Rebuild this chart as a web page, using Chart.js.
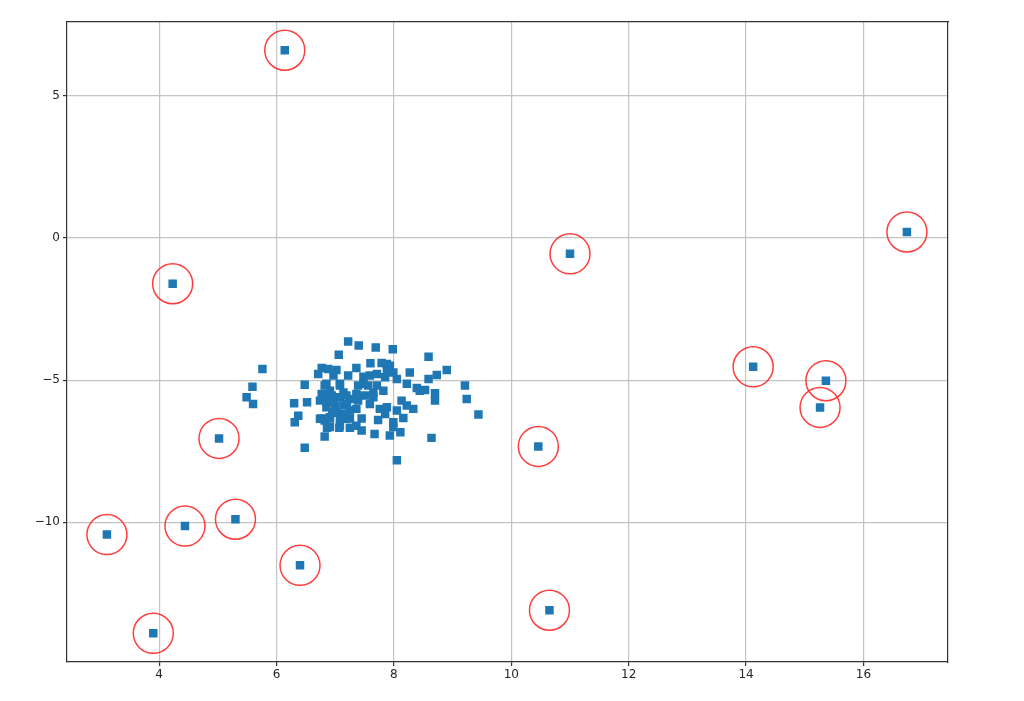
<!DOCTYPE html>
<html>
<head>
<meta charset="utf-8">
<script src="https://cdn.jsdelivr.net/npm/chart.js@4"></script>
<style>
html,body{margin:0;padding:0;background:#fff;}
#wrap{width:1024px;height:701px;position:relative;}
</style>
</head>
<body>
<div id="wrap"><canvas id="c"></canvas></div>
<script>
const clusterX = [7.22,7.40,7.69,7.98,7.06,8.59,7.60,7.79,7.88,7.93,5.76,6.77,6.88,7.02,7.36,8.90,8.27,7.88,7.99,7.22,7.48,7.59,7.71,8.73,8.59,8.05,7.85,6.48,5.59,6.85,7.08,7.48,7.71,8.22,8.39,8.53,9.21,6.91,7.14,7.36,7.65,7.82,8.70,8.44,5.49,5.60,6.30,6.52,6.74,6.91,7.08,7.25,7.39,7.65,8.70,9.24,6.85,7.14,7.36,7.76,7.88,8.05,8.22,8.33,6.37,6.31,6.74,6.91,7.19,7.73,8.16,7.99,9.44,6.91,7.36,7.45,7.99,6.82,7.67,7.93,8.11,8.64,6.48,8.05,6.97,7.02,7.25,6.82,7.08,7.59,7.85,8.13,6.77,6.71,6.97,6.82,7.08,7.39,7.56,6.94,7.19,7.42,7.56,6.77,6.91,7.08,7.25,7.45,6.86,7.07,7.25,6.85,7.00,7.20,6.95,7.15];
const clusterY = [-3.64,-3.78,-3.85,-3.91,-4.11,-4.18,-4.41,-4.40,-4.43,-4.49,-4.61,-4.57,-4.61,-4.64,-4.57,-4.64,-4.73,-4.67,-4.73,-4.84,-4.88,-4.84,-4.78,-4.82,-4.96,-4.96,-4.90,-5.16,-5.23,-5.13,-5.13,-5.13,-5.19,-5.13,-5.28,-5.35,-5.19,-5.37,-5.43,-5.49,-5.43,-5.37,-5.46,-5.37,-5.60,-5.84,-5.81,-5.78,-5.72,-5.66,-5.60,-5.66,-5.72,-5.60,-5.72,-5.66,-5.95,-5.89,-6.01,-6.01,-5.95,-6.07,-5.89,-6.01,-6.25,-6.48,-6.36,-6.30,-6.36,-6.40,-6.33,-6.48,-6.21,-6.65,-6.60,-6.77,-6.65,-6.98,-6.89,-6.95,-6.83,-7.03,-7.38,-7.82,-5.78,-6.13,-6.07,-6.42,-6.60,-5.84,-6.19,-5.72,-5.49,-4.78,-4.84,-5.19,-5.19,-5.19,-5.19,-5.54,-5.54,-5.54,-5.54,-6.35,-6.35,-6.35,-6.35,-6.35,-6.67,-6.67,-6.67,-5.75,-5.90,-5.85,-6.15,-6.20];
const outlierX = [6.14,4.23,11.00,16.74,14.12,15.36,15.26,10.46,5.02,3.11,4.44,5.30,6.40,3.90,10.65];
const outlierY = [6.60,-1.61,-0.56,0.21,-4.53,-5.02,-5.96,-7.33,-7.05,-10.43,-10.13,-9.89,-11.51,-13.90,-13.09];
const xTicks = [4,6,8,10,12,14,16];
const yTicks = [-10,-5,0,5];
const xRange = [2.43,17.44];
const yRange = [-14.91,7.61];

const toPts = (xs, ys) => xs.map((x,i)=>({x:x,y:ys[i]}));
const allPts = toPts(clusterX.concat(outlierX), clusterY.concat(outlierY));
const outPts = toPts(outlierX, outlierY);

const fmt = v => (v < 0 ? '\u2212' + Math.abs(v) : String(v));
const tickFont = {family:'DejaVu Sans', size:12};

new Chart(document.getElementById('c'), {
  type:'scatter',
  data:{datasets:[
    {data:allPts, pointStyle:'rect', pointRadius:6, pointHoverRadius:6, backgroundColor:'#1f77b4', borderColor:'#1f77b4', borderWidth:0},
    {data:outPts, pointStyle:'circle', pointRadius:20, pointHoverRadius:20, backgroundColor:'rgba(0,0,0,0)', borderColor:'rgba(255,40,40,0.9)', borderWidth:1.5}
  ]},
  options:{
    responsive:true, maintainAspectRatio:false, animation:false,
    layout:{padding:{left:0, top:20, right:76, bottom:0}},
    plugins:{legend:{display:false}, tooltip:{enabled:false}},
    events:[],
    scales:{
      x:{type:'linear', position:'bottom', min:xRange[0], max:xRange[1],
        afterBuildTicks:s=>{s.ticks = xTicks.map(v=>({value:v}));},
        afterFit:s=>{s.height = 39;},
        ticks:{font:tickFont, color:'#262626', padding:2, callback:v=>fmt(v), maxRotation:0, autoSkip:false},
        grid:{color:'#c4c4c4', lineWidth:1.2, tickColor:'#333', tickLength:4, drawTicks:true},
        border:{color:'#333', width:1.2}
      },
      y:{type:'linear', position:'left', min:yRange[0], max:yRange[1],
        afterBuildTicks:s=>{s.ticks = yTicks.map(v=>({value:v}));},
        afterFit:s=>{s.width = 67;},
        ticks:{font:tickFont, color:'#262626', padding:3, callback:v=>fmt(v), autoSkip:false},
        grid:{color:'#c4c4c4', lineWidth:1.2, tickColor:'#333', tickLength:4, drawTicks:true},
        border:{color:'#333', width:1.2}
      },
      x2:{type:'linear', position:'top', min:xRange[0], max:xRange[1],
        afterFit:s=>{s.height = 0;},
        ticks:{display:false}, grid:{display:false, drawTicks:false},
        border:{display:true, color:'#333', width:1.2}
      },
      y2:{type:'linear', position:'right', min:yRange[0], max:yRange[1],
        afterFit:s=>{s.width = 0;},
        ticks:{display:false}, grid:{display:false, drawTicks:false},
        border:{display:true, color:'#333', width:1.2}
      }
    }
  }
});
</script>
</body>
</html>
